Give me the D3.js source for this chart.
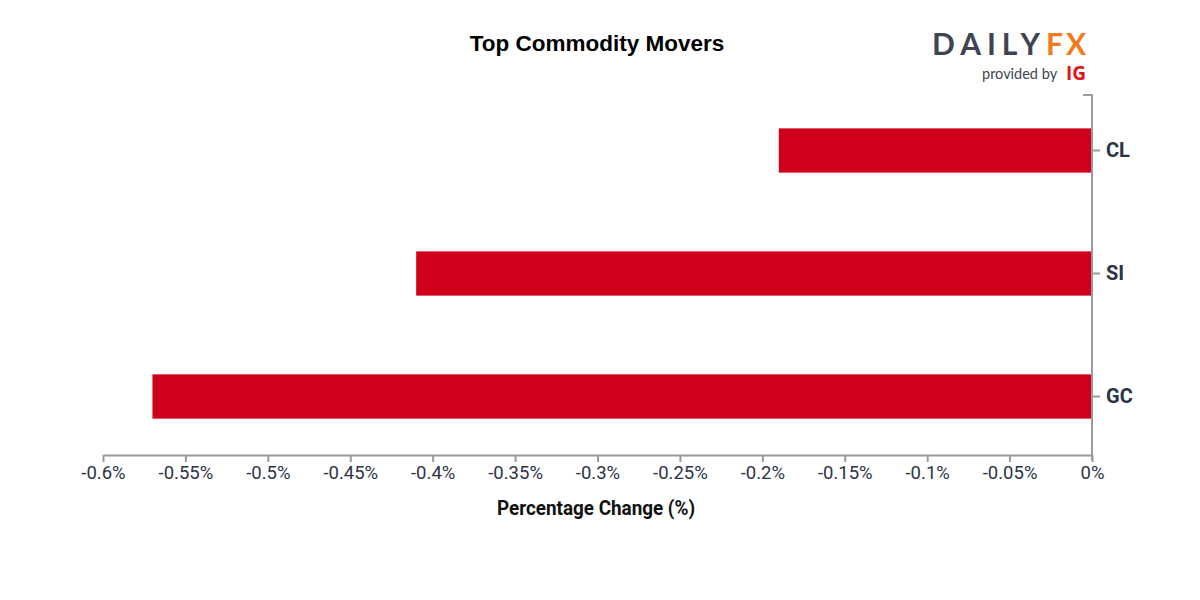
<!DOCTYPE html>
<html>
<head>
<meta charset="utf-8">
<script src="https://cdn.jsdelivr.net/npm/d3@7"></script>
<style>
  html, body { margin: 0; padding: 0; background: #fff; }
  svg { display: block; }
</style>
</head>
<body>
<svg id="chart" width="1200" height="600"></svg>
<script>
const categories = ["CL", "SI", "GC"];
const values = [-0.19, -0.41, -0.57];
const xTickValues = [-0.6, -0.55, -0.5, -0.45, -0.4, -0.35, -0.3, -0.25, -0.2, -0.15, -0.1, -0.05, 0];
const xTickLabels = ["-0.6%", "-0.55%", "-0.5%", "-0.45%", "-0.4%", "-0.35%", "-0.3%", "-0.25%", "-0.2%", "-0.15%", "-0.1%", "-0.05%", "0%"];

const svg = d3.select("#chart");
const axisColor = "#9a9a9a";
const textColor = "#2c3446";

const x = d3.scaleLinear().domain([-0.6, 0]).range([103, 1092]);
const y = d3.scaleBand().domain(categories).range([89, 458]).paddingInner(0.64).paddingOuter(0.32);

// bars
svg.append("g").selectAll("rect")
  .data(categories.map((c, i) => ({c, v: values[i]})))
  .join("rect")
  .attr("x", d => x(d.v))
  .attr("y", d => y(d.c))
  .attr("width", d => x(0) - x(d.v))
  .attr("height", y.bandwidth())
  .attr("fill", "#d0021b");

// x axis
const xAxis = svg.append("g")
  .attr("transform", "translate(0,455)")
  .call(d3.axisBottom(x).tickValues(xTickValues)
    .tickFormat((d, i) => xTickLabels[i]).tickSize(7).tickSizeOuter(0).tickPadding(4));
xAxis.select(".domain").attr("stroke", axisColor).attr("stroke-width", 2);
xAxis.selectAll(".tick line").attr("stroke", axisColor).attr("stroke-width", 2);
xAxis.selectAll(".tick text")
  .attr("fill", textColor)
  .style("font-family", "Roboto, sans-serif")
  .style("font-size", "18.5px");

// y axis (right side)
const yAxis = svg.append("g")
  .attr("transform", "translate(1092,0)")
  .call(d3.axisRight(y).tickSize(8).tickSizeOuter(0).tickPadding(6));
yAxis.select(".domain").remove();
yAxis.selectAll(".tick line").attr("stroke", axisColor).attr("stroke-width", 2);
yAxis.selectAll(".tick text")
  .attr("fill", textColor)
  .style("font-family", "Roboto, sans-serif")
  .style("font-weight", "bold")
  .style("font-size", "20px");
yAxis.append("path")
  .attr("d", `M-9,95H0V460`)
  .attr("fill", "none")
  .attr("stroke", axisColor)
  .attr("stroke-width", 2);

// title
svg.append("text")
  .attr("x", 597).attr("y", 51)
  .attr("text-anchor", "middle")
  .style("font-family", "'Liberation Sans', Arial, sans-serif")
  .style("font-weight", "bold")
  .style("font-size", "22.5px")
  .attr("fill", "#000")
  .text("Top Commodity Movers");

// x axis title
svg.append("text")
  .attr("x", 596).attr("y", 515)
  .attr("text-anchor", "middle")
  .style("font-family", "Roboto, sans-serif")
  .style("font-weight", "bold")
  .style("font-size", "21px")
  .attr("fill", "#111")
  .attr("textLength", 198)
  .attr("lengthAdjust", "spacingAndGlyphs")
  .text("Percentage Change (%)");

// logo
const logo = svg.append("g");
logo.append("text")
  .attr("x", 932).attr("y", 55)
  .style("font-family", "Lato, 'Open Sans', sans-serif")
  .style("font-weight", "bold")
  .style("font-size", "30px")
  .style("letter-spacing", "6px")
  .attr("fill", "#3e4452")
  .text("DAILY")
  .append("tspan")
  .attr("fill", "#f47920")
  .style("letter-spacing", "3px")
  .text("FX");
logo.append("text")
  .attr("x", 982).attr("y", 79)
  .style("font-family", "Lato, 'Open Sans', sans-serif")
  .style("font-size", "14.5px")
  .attr("fill", "#3e4452")
  .text("provided by");
logo.append("text")
  .attr("x", 1066).attr("y", 80)
  .style("font-family", "'Open Sans', sans-serif")
  .style("font-weight", "bold")
  .style("font-size", "19px")
  .attr("fill", "#e2121b")
  .text("IG");
</script>
</body>
</html>
